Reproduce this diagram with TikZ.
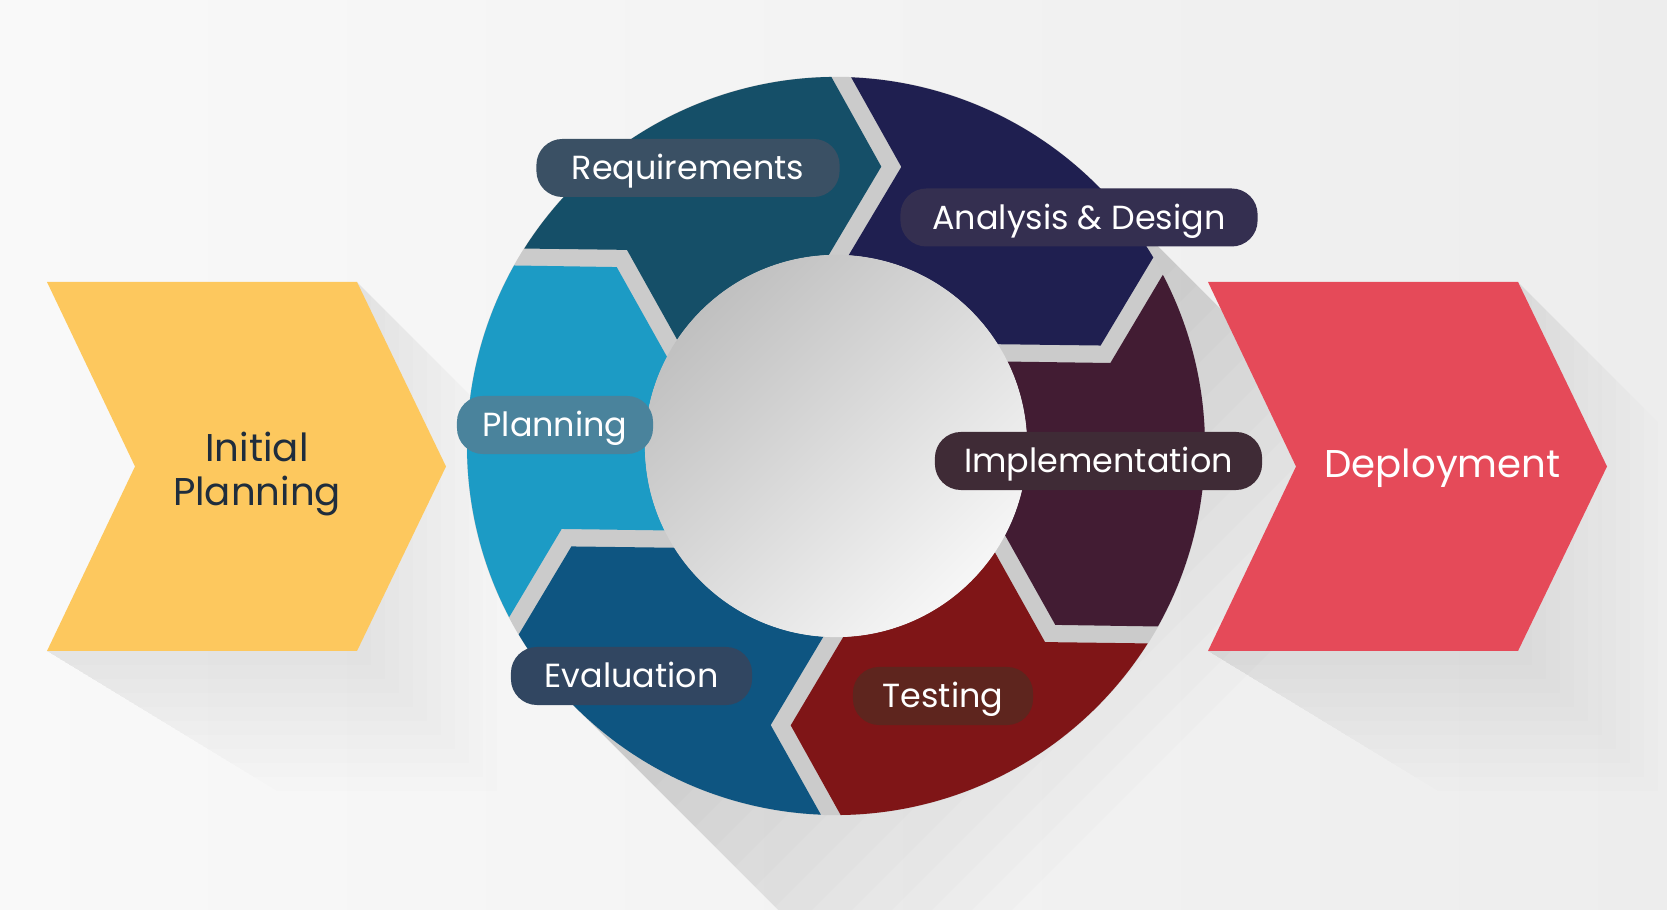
\documentclass[tikz,border=0pt]{standalone}
\usepackage{fontspec}
\setmainfont{Poppins}
\definecolor{bgleft}{RGB}{249,249,249}
\definecolor{bgright}{RGB}{237,237,237}
\definecolor{ringgray}{RGB}{203,203,203}
\definecolor{holedark}{RGB}{192,192,192}
\definecolor{holemid}{RGB}{222,222,222}
\definecolor{holelight}{RGB}{246,246,246}
\definecolor{reqteal}{RGB}{21,79,104}
\definecolor{ananavy}{RGB}{31,31,80}
\definecolor{implmaroon}{RGB}{66,28,51}
\definecolor{testred}{RGB}{127,21,23}
\definecolor{evalblue}{RGB}{14,85,129}
\definecolor{planblue}{RGB}{28,155,197}
\definecolor{reqpill}{RGB}{58,80,100}
\definecolor{anapill}{RGB}{52,47,80}
\definecolor{implpill}{RGB}{63,43,54}
\definecolor{testpill}{RGB}{94,37,30}
\definecolor{evalpill}{RGB}{49,70,97}
\definecolor{planpill}{RGB}{74,131,156}
\definecolor{inityellow}{RGB}{253,200,94}
\definecolor{deployred}{RGB}{229,74,89}
\definecolor{textnavy}{RGB}{31,45,61}

\begin{document}
\begin{tikzpicture}[x=0.01cm, y=0.01cm]
  \tikzset{
    stage_pill/.style args={#1}{
      fill=#1, rounded corners=0.26cm, minimum height=0.58cm, inner sep=0pt,
      text=white, font=\fontsize{9.5}{11}\selectfont, text height=6.6pt, text depth=0pt
    },
    chevron_label/.style={inner sep=0pt, align=center, font=\fontsize{11}{12.5}\selectfont},
    long_shadow/.style={fill=black, fill opacity=#1}
  }

  % Fix the frame and lay down the background
  \useasboundingbox (0,0) rectangle (1667,910);
  \clip (0,0) rectangle (1667,910);
  \shade[left color=bgleft, right color=bgright] (0,0) rectangle (1667,910);

  \coordinate (ring) at (836,464);
  \path (ring) ++(45:369) coordinate (shadeA) (ring) ++(225:369) coordinate (shadeB);

  % Draw the long shadow of the ring, one thin layer at a time
  \foreach \k in {1,...,16} {
    \fill[long_shadow=0.012] (shadeB) -- (shadeA) -- ++(20*\k,-20*\k) -- ++(-521.8,-521.8) -- cycle;
  }

  % Draw the long shadows of both chevrons
  \foreach \dx in {0,1161} {
    \foreach \k in {1,...,10} {
      \fill[long_shadow=0.008] (357+\dx,628) -- ++(14*\k,-14*\k) -- (357+\dx+14*\k,259-14*\k)
        -- (47+\dx+23*\k,259-14*\k) -- (47+\dx,259) -- cycle;
    }
  }

  % Grey disc that shows through the gaps
  \fill[ringgray] (ring) circle[radius=3.69cm];

  % Draw the six segments, each one pointing clockwise
  \foreach \lead/\col in {30/ananavy, -30/implmaroon, -90/testred, -150/evalblue, -210/planblue, 90/reqteal} {
    \begin{scope}[shift={(ring)}, rotate=\lead-0.8]
      \fill[\col] (58.45:369) arc[start angle=58.45, end angle=1.55, radius=3.69cm]
        -- (-8.41:283.04) -- (3:191) arc[start angle=3, end angle=57, radius=1.91cm]
        -- (47.63:286.65) -- cycle;
    \end{scope}
  }

  % Hole in the middle
  \shade[top color=holedark, middle color=holemid, bottom color=holelight, shading angle=45]
    (ring) circle[radius=1.91cm];

  % Labels of the stages
  \node[stage_pill=reqpill, minimum width=3.03cm] (req) at (688,742) {Requirements};
  \node[stage_pill=anapill, minimum width=3.57cm] (ana) at (1079,692.5) {Analysis \& Design};
  \node[stage_pill=implpill, minimum width=3.27cm] (impl) at (1098.5,449) {Implementation};
  \node[stage_pill=testpill, minimum width=1.80cm] (test) at (943,214) {Testing};
  \node[stage_pill=evalpill, minimum width=2.41cm] (eval) at (631.5,234) {Evaluation};
  \node[stage_pill=planpill, minimum width=1.96cm] (plan) at (555,485) {Planning};

  % Draw the two chevrons at the sides
  \foreach \dx/\col in {0/inityellow, 1161/deployred} {
    \fill[\col] (47+\dx,628) -- (357+\dx,628) -- (446+\dx,443.5) -- (357+\dx,259)
      -- (47+\dx,259) -- (135+\dx,443.5) -- cycle;
  }
  \node[chevron_label, text=textnavy] (init) at (257,436) {Initial\\Planning};
  \node[chevron_label, text=white, anchor=base] (deploy) at (1442.5,432) {Deployment};

\end{tikzpicture}
\end{document}
